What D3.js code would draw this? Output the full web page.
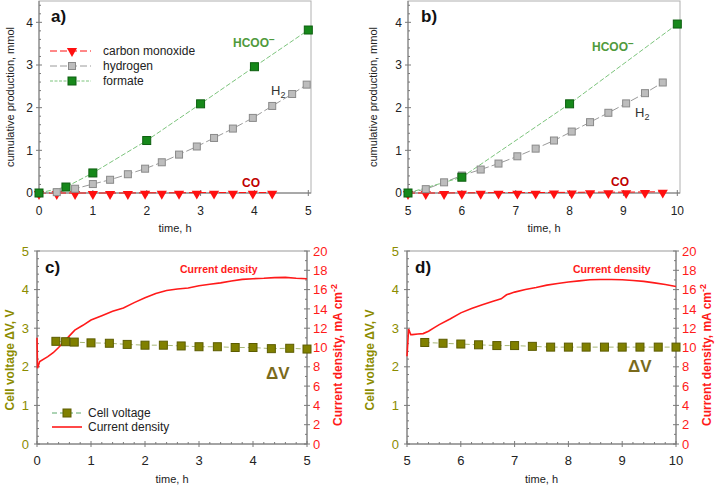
<!DOCTYPE html>
<html>
<head>
<meta charset="utf-8">
<script src="https://cdn.jsdelivr.net/npm/d3@7"></script>
<style>
    body { margin: 0; background: #fff; }
    text { font-family: "Liberation Sans", Arial, sans-serif; }
</style>
</head>
<body>
<svg id="chart" width="720" height="488"></svg>
<script>
// ---- panel a: 0-5 h ----
const formateTimeA = [0, 0.5, 1, 2, 3, 4, 5];
const formateA = [0, 0.14, 0.47, 1.23, 2.09, 2.96, 3.82];
const hydrogenTimeA = [0, 0.33, 0.67, 1.0, 1.32, 1.65, 1.97, 2.28, 2.6, 2.93, 3.25, 3.6, 3.97, 4.33, 4.7, 4.97];
const hydrogenA = [0, 0.02, 0.1, 0.21, 0.31, 0.44, 0.57, 0.72, 0.9, 1.09, 1.29, 1.51, 1.76, 2.04, 2.32, 2.54];
const coTimeA = [0, 0.33, 0.67, 1.0, 1.32, 1.65, 1.97, 2.28, 2.6, 2.93, 3.25, 3.6, 3.97, 4.33];
const coA = [0, 0, 0, 0, 0, 0, 0.005, 0.005, 0.005, 0.01, 0.01, 0.01, 0.01, 0.01];

// ---- panel b: 5-10 h ----
const formateTimeB = [5, 6, 8, 10];
const formateB = [0, 0.37, 2.09, 3.96];
const hydrogenTimeB = [5, 5.33, 5.67, 6.0, 6.35, 6.68, 7.03, 7.37, 7.71, 8.04, 8.38, 8.72, 9.05, 9.4, 9.73];
const hydrogenB = [0, 0.09, 0.25, 0.41, 0.55, 0.69, 0.86, 1.04, 1.23, 1.44, 1.66, 1.88, 2.1, 2.34, 2.59];
const coTimeB = [5, 5.33, 5.67, 6.0, 6.35, 6.68, 7.03, 7.37, 7.71, 8.04, 8.38, 8.72, 9.05, 9.4, 9.73];
const coB = [0, 0, 0, 0.005, 0.005, 0.01, 0.01, 0.01, 0.015, 0.015, 0.02, 0.02, 0.02, 0.025, 0.03];

// ---- panel c: 0-5 h ----
const voltTimeC = [0.35, 0.53, 0.69, 1.0, 1.34, 1.67, 2.0, 2.34, 2.67, 3.0, 3.34, 3.67, 4.0, 4.34, 4.68, 5.0];
const voltC = [2.66, 2.65, 2.64, 2.62, 2.61, 2.58, 2.56, 2.56, 2.54, 2.52, 2.52, 2.5, 2.5, 2.47, 2.48, 2.46];
const currTimeC = [0, 0.01, 0.05, 0.2, 0.3, 0.4, 0.5, 0.6, 0.7, 0.85, 1.0, 1.2, 1.4, 1.6, 1.8, 2.0, 2.2, 2.4,
    2.6, 2.8, 3.0, 3.2, 3.4, 3.6, 3.8, 4.0, 4.2, 4.4, 4.6, 4.8, 5.0];
const currC = [11.0, 7.85, 8.55, 9.05, 9.46, 10.0, 10.6, 11.2, 11.8, 12.3, 12.85, 13.3, 13.75, 14.1, 14.65, 15.15,
    15.6, 15.9, 16.06, 16.17, 16.4, 16.55, 16.7, 16.9, 17.06, 17.13, 17.17, 17.24, 17.27, 17.17, 17.13];

// ---- panel d: 5-10 h ----
const voltTimeD = [5.33, 5.67, 6.0, 6.33, 6.67, 7.0, 7.33, 7.67, 8.0, 8.33, 8.67, 9.0, 9.33, 9.67, 10.0];
const voltD = [2.63, 2.61, 2.59, 2.57, 2.55, 2.55, 2.53, 2.51, 2.51, 2.51, 2.51, 2.51, 2.51, 2.51, 2.51];
const currTimeD = [5.0, 5.03, 5.07, 5.1, 5.2, 5.3, 5.4, 5.5, 5.6, 5.8, 6.0, 6.2, 6.4, 6.6, 6.75, 6.85, 7.0, 7.2,
    7.4, 7.6, 7.8, 8.0, 8.2, 8.4, 8.6, 8.8, 9.0, 9.2, 9.4, 9.6, 9.8, 10.0];
const currD = [9.1, 11.92, 11.33, 11.33, 11.4, 11.44, 11.68, 12.03, 12.37, 12.96, 13.59, 14.04, 14.42, 14.8, 15.04,
    15.46, 15.74, 16.01, 16.22, 16.46, 16.64, 16.78, 16.9, 17.02, 17.05, 17.05, 17.02, 16.95, 16.85, 16.7, 16.53, 16.33];

const legendTop = ["carbon monoxide", "hydrogen", "formate"];
const legendBottom = ["Cell voltage", "Current density"];

const C = {
    axis: "#7a7a7a",
    formate: "#16881a", formateLine: "#7cc47c",
    hydrogen: "#bdbdbd", hydrogenLine: "#9a9a9a",
    co: "#ff1010",
    olive: "#808000", oliveText: "#8c8c00", voltLine: "#a8b878",
    red: "#ff1a1a"
};

const svg = d3.select("#chart");

// frame: box, axes, ticks (major crossing, minor inward)
function frame(o) {
    const g = svg.append("g");
    const x = d3.scaleLinear().domain(o.xDomain).range([o.left, o.right]);
    const y = d3.scaleLinear().domain(o.yDomain).range([o.bottom, o.top]);

    g.append("rect")
        .attr("x", o.left).attr("y", o.top)
        .attr("width", o.right - o.left).attr("height", o.bottom - o.top)
        .attr("fill", "none").attr("stroke", o.boxColor || "#b0b0b0").attr("stroke-width", 1);
    g.append("line").attr("x1", o.left).attr("x2", o.left).attr("y1", o.top).attr("y2", o.bottom)
        .attr("stroke", C.axis);
    g.append("line").attr("x1", o.left).attr("x2", o.right).attr("y1", o.bottom).attr("y2", o.bottom)
        .attr("stroke", C.axis);

    // x ticks
    const xMajor = d3.range(o.xDomain[0], Math.floor(o.xDomain[1]) + 0.001, 1);
    g.selectAll(".xt").data(xMajor).join("line")
        .attr("x1", d => x(d)).attr("x2", d => x(d))
        .attr("y1", o.bottom - 3).attr("y2", o.bottom + 3).attr("stroke", C.axis);
    if (o.xMinor) {
        const mins = d3.range(o.xDomain[0], o.xDomain[1] + 0.001, o.xMinor)
            .filter(d => Math.abs(d - Math.round(d)) > 0.01);
        g.selectAll(".xm").data(mins).join("line")
            .attr("x1", d => x(d)).attr("x2", d => x(d))
            .attr("y1", o.bottom - 2).attr("y2", o.bottom).attr("stroke", C.axis);
    }
    g.selectAll(".xl").data(xMajor).join("text")
        .attr("x", d => x(d)).attr("y", o.bottom + o.xLabelDy)
        .attr("text-anchor", "middle").attr("font-size", o.tickSize).attr("fill", "#222")
        .text(d => d);

    // y ticks
    const yMajor = d3.range(0, Math.floor(o.yDomain[1]) + 0.001, 1);
    g.selectAll(".yt").data(yMajor).join("line")
        .attr("x1", o.left - 3).attr("x2", o.left + 3)
        .attr("y1", d => y(d)).attr("y2", d => y(d)).attr("stroke", C.axis);
    const yMins = d3.range(0, o.yDomain[1] + 0.001, 0.2).filter(d => Math.abs(d - Math.round(d)) > 0.01);
    g.selectAll(".ym").data(yMins).join("line")
        .attr("x1", o.left).attr("x2", o.left + 2)
        .attr("y1", d => y(d)).attr("y2", d => y(d)).attr("stroke", C.axis);
    g.selectAll(".yl").data(yMajor).join("text")
        .attr("x", o.left - o.yLabelDx).attr("y", d => y(d)).attr("dy", "0.36em")
        .attr("text-anchor", "end").attr("font-size", o.tickSize).attr("fill", o.yLabelColor || "#222")
        .text(d => d);

    // axis titles
    g.append("text")
        .attr("x", (o.left + o.right) / 2).attr("y", o.xTitleY)
        .attr("text-anchor", "middle").attr("font-size", 11).attr("fill", "#222")
        .text("time, h");
    return { g, x, y };
}

function panelLabel(txt, px, py) {
    svg.append("text").attr("x", px).attr("y", py)
        .attr("font-family", "Liberation Serif, serif").attr("font-weight", "bold").attr("font-size", 17)
        .attr("fill", "#111").text(txt);
}

function squares(g, pts, size, fill, stroke) {
    g.selectAll(null).data(pts).join("rect")
        .attr("x", d => d[0] - size / 2).attr("y", d => d[1] - size / 2)
        .attr("width", size).attr("height", size)
        .attr("fill", fill).attr("stroke", stroke).attr("stroke-width", 1);
}

function triangles(g, pts, fill) {
    const tri = d3.symbol().type(d3.symbolTriangle).size(45);
    g.selectAll(null).data(pts).join("path")
        .attr("d", tri)
        .attr("transform", d => `translate(${d[0]},${d[1] + 1}) rotate(180)`)
        .attr("fill", fill);
}

function dashed(g, pts, color, dash, width = 1) {
    g.append("path").datum(pts)
        .attr("d", d3.line())
        .attr("fill", "none").attr("stroke", color).attr("stroke-width", width)
        .attr("stroke-dasharray", dash);
}

// ---------- production panels ----------
function productionPanel(o, data) {
    const f = frame(Object.assign({
        yDomain: [0, 4.5], top: 1, bottom: 193,
        tickSize: 12, xLabelDy: 22, yLabelDx: 6, xTitleY: 232
    }, o));
    const { g, x, y } = f;
    const px = (ts, vs) => ts.map((t, i) => [x(t), y(vs[i])]);

    g.append("text")
        .attr("transform", `translate(${o.yTitleX},97) rotate(-90)`)
        .attr("text-anchor", "middle").attr("font-size", 11).attr("fill", "#222")
        .text("cumulative production, mmol");

    const co = px(data.coT, data.co), h2 = px(data.h2T, data.h2), fo = px(data.foT, data.fo);
    dashed(g, co, C.co, "7,3");
    dashed(g, h2, C.hydrogenLine, "8,3");
    dashed(g, fo, C.formateLine, "5,2");
    triangles(g, co, C.co);
    squares(g, h2, 7, C.hydrogen, "#8a8a8a");
    squares(g, fo, 8, C.formate, "#0d5f10");

    const hc = g.append("text").attr("x", o.hcoo[0]).attr("y", o.hcoo[1])
        .attr("font-family", "Open Sans, sans-serif").attr("font-weight", 600)
        .attr("font-size", 12).attr("fill", "#4f9a3d");
    hc.append("tspan").text("HCOO");
    hc.append("tspan").attr("dy", -4).attr("font-size", 10).text("\u2212");

    const h = g.append("text").attr("x", o.h2[0]).attr("y", o.h2[1])
        .attr("font-size", 13).attr("fill", "#333");
    h.append("tspan").text("H");
    h.append("tspan").attr("dy", 3).attr("font-size", 9).text("2");

    g.append("text").attr("x", o.co[0]).attr("y", o.co[1])
        .attr("font-family", "Open Sans, sans-serif").attr("font-weight", 600)
        .attr("font-size", 12).attr("fill", "#c00000").text("CO");
}

productionPanel({
    xDomain: [0, 5.05], left: 39, right: 311, yTitleX: 14,
    hcoo: [233, 47], h2: [271, 95], co: [242, 187]
}, { coT: coTimeA, co: coA, h2T: hydrogenTimeA, h2: hydrogenA, foT: formateTimeA, fo: formateA });

productionPanel({
    xDomain: [5, 10.05], left: 408, right: 680, yTitleX: 377,
    hcoo: [592, 51], h2: [635, 117], co: [611, 186]
}, { coT: coTimeB, co: coB, h2T: hydrogenTimeB, h2: hydrogenB, foT: formateTimeB, fo: formateB });

panelLabel("a)", 51, 22);
panelLabel("b)", 421, 22);

// legend (panel a)
const legA = svg.append("g");
legendTop.forEach((name, i) => {
    const ly = 51 + i * 15;
    const color = [C.co, C.hydrogenLine, C.formateLine][i];
    legA.append("line").attr("x1", 50).attr("x2", 91).attr("y1", ly).attr("y2", ly)
        .attr("stroke", color).attr("stroke-dasharray", i === 2 ? "3,1.5" : "7,3");
    if (i === 0) triangles(legA, [[72, ly - 1]], C.co);
    if (i === 1) squares(legA, [[72, ly]], 7, C.hydrogen, "#8a8a8a");
    if (i === 2) squares(legA, [[72, ly]], 8, C.formate, "#0d5f10");
    legA.append("text").attr("x", 103).attr("y", ly).attr("dy", "0.36em")
        .attr("font-size", 12).attr("fill", "#222").text(name);
});

// ---------- voltage / current panels ----------
function electroPanel(o, data) {
    const f = frame(Object.assign({
        yDomain: [0, 5], top: 251, bottom: 444, xMinor: 0.2,
        tickSize: 13, xLabelDy: 21, yLabelDx: 8, xTitleY: 483,
        yLabelColor: C.oliveText, boxColor: "#9a9a9a"
    }, o));
    const { g, x, y } = f;
    const y2 = d3.scaleLinear().domain([0, 20]).range([444, 251]);

    // right axis
    g.append("line").attr("x1", o.right).attr("x2", o.right).attr("y1", 251).attr("y2", 444)
        .attr("stroke", C.axis);
    const r = d3.range(0, 20.001, 1);
    g.selectAll(null).data(r).join("line")
        .attr("x1", d => d % 2 === 0 ? o.right - 3 : o.right - 2)
        .attr("x2", d => d % 2 === 0 ? o.right + 3 : o.right)
        .attr("y1", d => y2(d)).attr("y2", d => y2(d)).attr("stroke", C.axis);
    g.selectAll(null).data(r.filter(d => d % 2 === 0)).join("text")
        .attr("x", o.right + 6).attr("y", d => y2(d)).attr("dy", "0.36em")
        .attr("font-size", 13).attr("fill", "#ff1a1a").text(d => d);

    // axis titles
    g.append("text")
        .attr("transform", `translate(${o.yTitleX},360) rotate(-90)`)
        .attr("text-anchor", "middle").attr("font-size", 12).attr("font-weight", "bold")
        .attr("fill", C.oliveText).text("Cell voltage \u0394V, V");
    const rt = g.append("text")
        .attr("transform", `translate(${o.y2TitleX},355) rotate(-90)`)
        .attr("text-anchor", "middle").attr("font-size", 12).attr("font-weight", "bold")
        .attr("fill", "#ff1a1a");
    rt.append("tspan").text("Current density, mA cm");
    rt.append("tspan").attr("dy", -5).attr("font-size", 9).text("-2");

    const cur = data.cT.map((t, i) => [x(t), y2(data.c[i])]);
    g.append("path").datum(cur).attr("d", d3.line())
        .attr("fill", "none").attr("stroke", C.red).attr("stroke-width", 1.6);

    const v = data.vT.map((t, i) => [x(t), y(data.v[i])]);
    dashed(g, v, C.voltLine, "5,3");
    squares(g, v, 8, C.olive, "#5c5c00");

    g.append("text").attr("x", o.cdLabel[0]).attr("y", o.cdLabel[1])
        .attr("font-family", "Lato, sans-serif").attr("font-weight", "bold")
        .attr("font-size", 10.5).attr("fill", "#ff1a1a").text("Current density");
    g.append("text").attr("x", o.dv[0]).attr("y", o.dv[1])
        .attr("font-size", 17).attr("font-weight", "bold").attr("fill", "#7a6a1c").text("\u0394V");
}

electroPanel({
    xDomain: [0, 5], left: 37, right: 307, yTitleX: 14, y2TitleX: 342,
    cdLabel: [180, 273], dv: [266, 379]
}, { vT: voltTimeC, v: voltC, cT: currTimeC, c: currC });

electroPanel({
    xDomain: [5, 10], left: 407, right: 676, yTitleX: 374, y2TitleX: 711,
    cdLabel: [573, 273], dv: [628, 372]
}, { vT: voltTimeD, v: voltD, cT: currTimeD, c: currD });

panelLabel("c)", 45, 273);
panelLabel("d)", 415, 273);

// legend (panel c)
const legC = svg.append("g");
legendBottom.forEach((name, i) => {
    const ly = 413 + i * 14;
    if (i === 0) {
        legC.append("line").attr("x1", 52).attr("x2", 82).attr("y1", ly).attr("y2", ly)
            .attr("stroke", "#5aa86a").attr("stroke-dasharray", "5,3");
        squares(legC, [[67, ly]], 8, C.olive, "#5c5c00");
    } else {
        legC.append("line").attr("x1", 52).attr("x2", 82).attr("y1", ly).attr("y2", ly)
            .attr("stroke", C.red).attr("stroke-width", 1.6);
    }
    legC.append("text").attr("x", 88).attr("y", ly).attr("dy", "0.36em")
        .attr("font-size", 12).attr("fill", "#222").text(name);
});
</script>
</body>
</html>
